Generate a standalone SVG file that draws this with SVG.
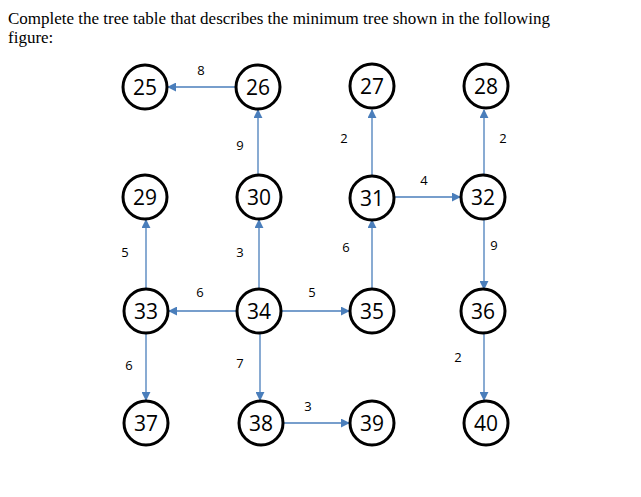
<svg xmlns="http://www.w3.org/2000/svg" width="641" height="497" viewBox="0 0 641 497">
<defs>
<marker id="a" viewBox="0 0 10 10" refX="9" refY="5" markerWidth="9" markerHeight="9" markerUnits="userSpaceOnUse" orient="auto"><path d="M0,0L10,5L0,10z" fill="#4a7ebb"/></marker>
<style>
.n circle{fill:#fff;stroke:#000;stroke-width:3}
.n text{font-family:"Open Sans","Liberation Sans",sans-serif;font-size:21px;text-anchor:middle;dominant-baseline:central}
.c line{stroke:#4a7ebb;stroke-width:1.3;marker-end:url(#a)}
.w{font-family:"Open Sans","Liberation Sans",sans-serif;font-size:13px;text-anchor:middle}
.t{font-family:"Liberation Serif",serif;font-size:17px}
</style>
</defs>
<rect width="641" height="497" fill="#fff"/>
<text class="t" x="8" y="24">Complete the tree table that describes the minimum tree shown in the following</text>
<text class="t" x="8" y="43">figure:</text>
<g class="c">
<line x1="235" y1="87" x2="168" y2="87"/>
<line x1="258" y1="175" x2="258" y2="110"/>
<line x1="372" y1="175" x2="372" y2="110"/>
<line x1="484" y1="175" x2="484" y2="110"/>
<line x1="395" y1="197" x2="460" y2="197"/>
<line x1="146" y1="289" x2="146" y2="220"/>
<line x1="259" y1="289" x2="259" y2="220"/>
<line x1="372" y1="289" x2="372" y2="220"/>
<line x1="484" y1="220" x2="484" y2="289"/>
<line x1="236" y1="311" x2="169" y2="311"/>
<line x1="282" y1="311" x2="349" y2="311"/>
<line x1="146" y1="334" x2="146" y2="400"/>
<line x1="260" y1="334" x2="260" y2="400"/>
<line x1="484" y1="334" x2="484" y2="400"/>
<line x1="284" y1="423" x2="349" y2="423"/>
</g>
<g class="w">
<text x="201" y="75">8</text><text x="240" y="150">9</text><text x="344" y="143">2</text><text x="503" y="143">2</text>
<text x="424" y="185">4</text><text x="125" y="257">5</text><text x="240" y="257">3</text><text x="346" y="252">6</text><text x="494" y="250">9</text>
<text x="200" y="297">6</text><text x="312" y="297">5</text><text x="129" y="370">6</text><text x="240" y="368">7</text><text x="458" y="362">2</text><text x="308" y="411">3</text>
</g>
<g id="n25" class="n"><circle cx="145" cy="87" r="22"/><text x="145" y="87">25</text></g>
<g id="n26" class="n"><circle cx="258" cy="87" r="22"/><text x="258" y="87">26</text></g>
<g id="n27" class="n"><circle cx="372" cy="86" r="22"/><text x="372" y="86">27</text></g>
<g id="n28" class="n"><circle cx="486" cy="86" r="22"/><text x="486" y="86">28</text></g>
<g id="n29" class="n"><circle cx="145" cy="197" r="22"/><text x="145" y="197">29</text></g>
<g id="n30" class="n"><circle cx="259" cy="197" r="22"/><text x="259" y="197">30</text></g>
<g id="n31" class="n"><circle cx="372" cy="198" r="22"/><text x="372" y="198">31</text></g>
<g id="n32" class="n"><circle cx="483" cy="197" r="22"/><text x="483" y="197">32</text></g>
<g id="n33" class="n"><circle cx="146" cy="311" r="22"/><text x="146" y="311">33</text></g>
<g id="n34" class="n"><circle cx="259" cy="311" r="22"/><text x="259" y="311">34</text></g>
<g id="n35" class="n"><circle cx="372" cy="311" r="22"/><text x="372" y="311">35</text></g>
<g id="n36" class="n"><circle cx="483" cy="311" r="22"/><text x="483" y="311">36</text></g>
<g id="n37" class="n"><circle cx="146" cy="423" r="22"/><text x="146" y="423">37</text></g>
<g id="n38" class="n"><circle cx="261" cy="423" r="22"/><text x="261" y="423">38</text></g>
<g id="n39" class="n"><circle cx="372" cy="423" r="22"/><text x="372" y="423">39</text></g>
<g id="n40" class="n"><circle cx="486" cy="423" r="22"/><text x="486" y="423">40</text></g>
</svg>
